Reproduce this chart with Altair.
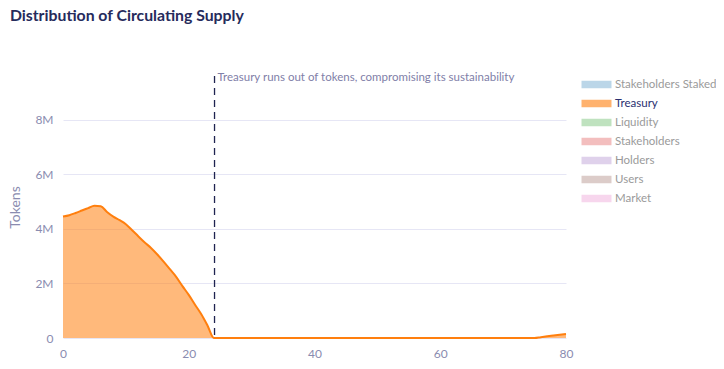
import altair as alt
import pandas as pd

series_names = ["Stakeholders Staked", "Treasury", "Liquidity", "Stakeholders", "Holders", "Users", "Market"]
series_colors = ["#1f77b4", "#ff7f0e", "#2ca02c", "#d62728", "#9467bd", "#8c564b", "#e377c2"]

months = list(range(0, 81))
treasury_m = [4.45, 4.50, 4.58, 4.67, 4.76, 4.85, 4.83, 4.62, 4.45, 4.32,
              4.17, 3.95, 3.72, 3.50, 3.30, 3.06, 2.80, 2.52, 2.24, 1.90,
              1.58, 1.22, 0.87, 0.45, 0.0] + [0.0] * 51 + [0.03, 0.06, 0.09, 0.12, 0.15]

event_month = [24.1]
event_text = ["Treasury runs out of tokens, compromising its sustainability"]

x_ticks = [0, 20, 40, 60, 80]
y_ticks = [0, 2e6, 4e6, 6e6, 8e6]

df = pd.DataFrame({
    "month": months,
    "tokens": [v * 1e6 for v in treasury_m],
    "series": ["Treasury"] * len(months),
})
ev = pd.DataFrame({"month": event_month, "label": event_text})

FONT = "Lato"
TICK = "#8a8cb0"

color = alt.Color(
    "series:N",
    scale=alt.Scale(domain=series_names, range=series_colors),
    legend=alt.Legend(
        title=None,
        orient="none",
        legendX=526,
        legendY=1,
        symbolType="M-2,-0.5H2V0.5H-2Z",
        symbolSize=225,
        symbolStrokeWidth=0,
        symbolOpacity={"expr": "datum.label == 'Treasury' ? 0.6 : 0.3"},
        labelColor={"expr": "datum.label == 'Treasury' ? '#2a3070' : '#9a9a9a'"},
        labelFont=FONT,
        labelFontSize=11.5,
        labelOffset=11,
        rowPadding=6,
        symbolLimit=0,
    ),
)

x = alt.X("month:Q", scale=alt.Scale(domain=[0, 80], nice=False),
          axis=alt.Axis(values=x_ticks, title=None, grid=False, domain=False, ticks=False,
                        labelFlush=False, labelPadding=10, labelColor=TICK, labelFont=FONT,
                        labelFontSize=12))
y = alt.Y("tokens:Q", scale=alt.Scale(domain=[0, 9.6e6], nice=False),
          axis=alt.Axis(values=y_ticks, labelExpr="datum.value == 0 ? '0' : format(datum.value / 1e6, 'd') + 'M'",
                        title="Tokens", grid=True, gridColor="#e6e6f5",
                        domain=False, ticks=False, labelPadding=10, labelColor=TICK, labelFont=FONT,
                        labelFontSize=12, titleColor=TICK, titleFont=FONT, titleFontSize=14,
                        titleFontWeight="normal", titlePadding=12))

area = alt.Chart(df).mark_area(fillOpacity=0.55, interpolate="monotone").encode(x=x, y=y, color=color)
line = alt.Chart(df).mark_line(strokeWidth=2, interpolate="monotone").encode(x=x, y=y, color=color)

rule = alt.Chart(ev).mark_rule(color="#1f2350", strokeDash=[7, 5], strokeWidth=1.3).encode(x="month:Q")
text = alt.Chart(ev).mark_text(align="left", baseline="middle", dx=3, font=FONT, fontSize=11.5,
                               color="#7f80a8").encode(x="month:Q", y=alt.value(2), text="label:N")

chart = alt.layer(area, line, rule, text).properties(
    width=503,
    height=262,
    autosize=alt.AutoSizeParams(type="none"),
    padding={"left": 55, "top": 68, "right": 150, "bottom": 30},
    title=alt.Title("Distribution of Circulating Supply", anchor="start", dx=1, offset=47,
                    font=FONT, fontSize=15.8, fontWeight="bold", color="#262b5c"),
).configure_view(stroke=None)

chart.save("out.html", embed_options={"renderer": "svg", "actions": False})
